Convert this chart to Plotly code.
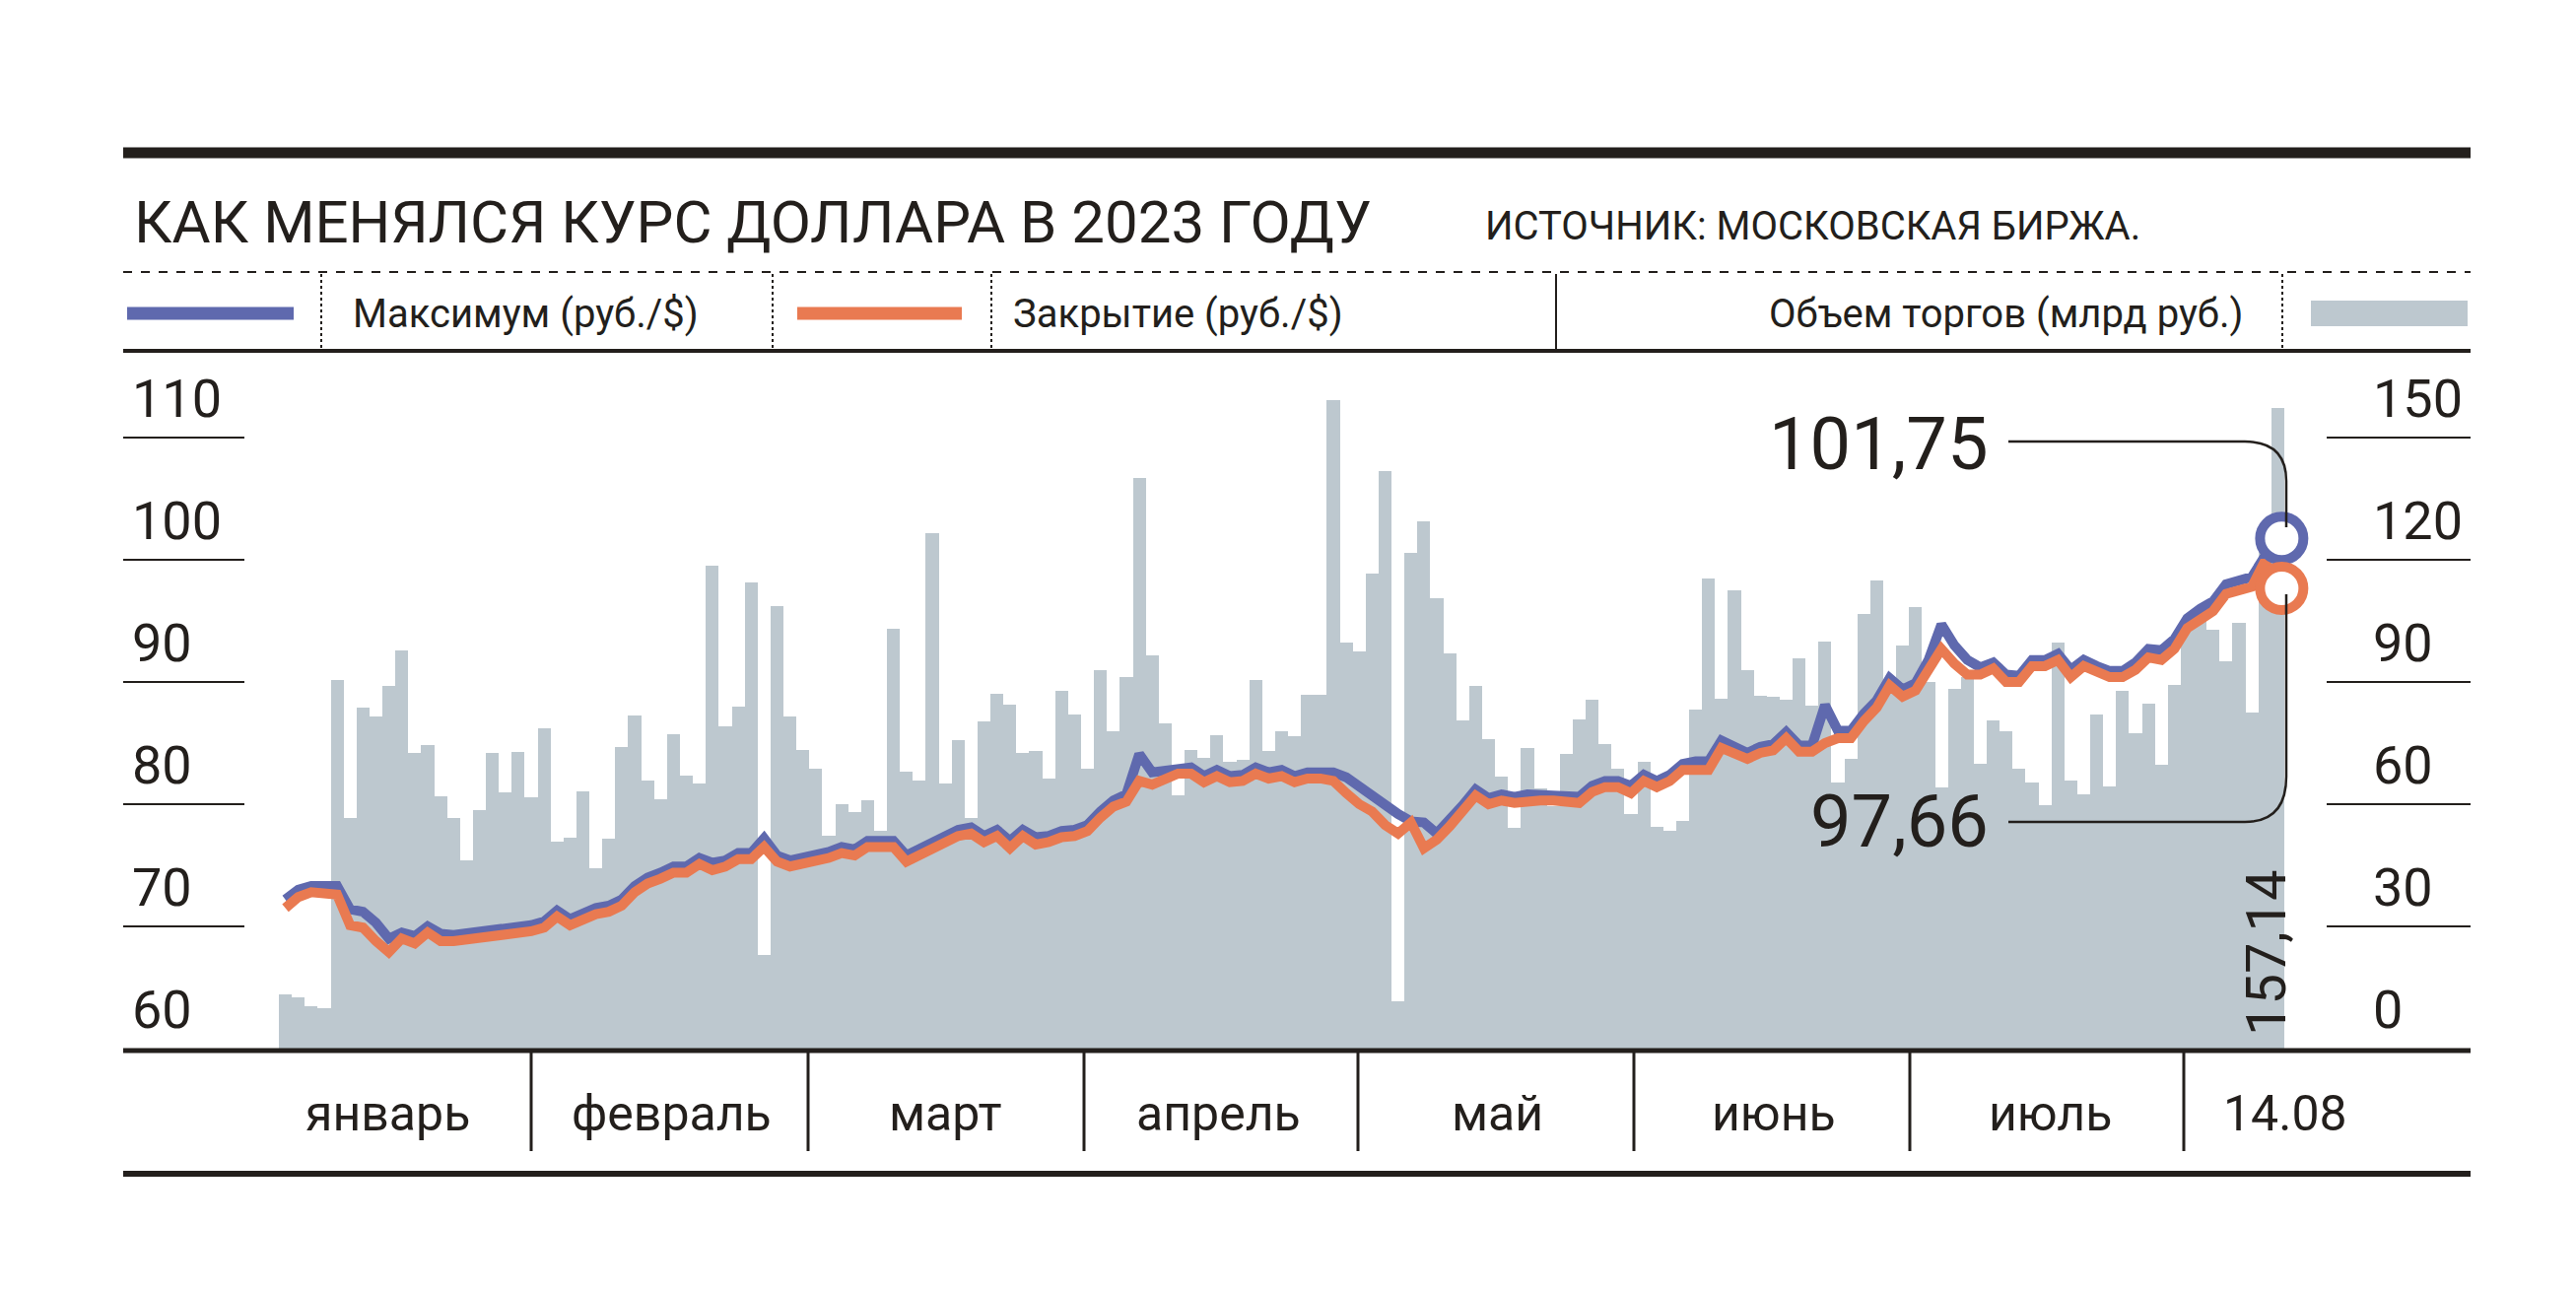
import plotly.graph_objects as go

W, H = 2614, 1312

# дневные значения с 3 января по 14 августа 2023 (оценка по картинке)
close = [71.5, 72.4, 72.8, 72.8, 72.6, 70.1, 69.9, 68.8, 67.9, 69.0,
         68.6, 69.5, 68.8, 68.8, 68.9, 69.0, 69.2, 69.4, 69.5, 69.6,
         69.9, 70.8, 70.1, 70.6, 71.0, 71.2, 71.7, 72.8, 73.5, 73.9,
         74.4, 74.4, 75.1, 74.6, 74.9, 75.5, 75.5, 76.5, 75.3, 74.9,
         75.1, 75.3, 75.6, 76.0, 75.8, 76.5, 76.4, 76.5, 75.3, 75.8,
         76.5, 76.9, 77.4, 77.6, 76.9, 77.4, 76.4,
         77.4, 76.7, 76.9, 77.3, 77.4, 77.8, 78.9, 79.8, 80.2, 81.9,
         81.6, 82.1, 82.5, 82.5, 81.8, 82.3, 81.8, 81.9, 82.5, 82.1,
         82.3, 81.8, 82.1, 82.1, 81.9, 80.9, 80.0, 79.4, 78.3, 77.6,
         78.5, 76.4, 77.1, 78.2, 79.4, 80.7, 80.0, 80.3, 80.1, 80.3,
         80.3, 80.3, 80.3, 80.1, 81.0, 81.4, 81.4, 80.9, 81.9, 81.4,
         81.9, 82.8,
         82.8, 82.8, 84.6, 84.2, 83.7, 84.2, 84.4, 85.4, 84.3, 84.3,
         85.0, 85.4, 85.4, 86.8, 87.9, 89.7, 88.8, 89.3, 91.1, 92.7,
         91.5, 90.6, 90.6, 91.1, 90.0, 90.0, 91.3, 91.3, 91.8, 90.4,
         91.3, 90.8, 90.4, 90.4, 91.0, 92.0, 91.8, 92.7, 94.4, 95.1,
         95.8, 97.2, 97.4, 97.8, 99.9, 97.66]

high = [72.2, 73.0, 73.3, 73.4, 73.3, 71.4, 71.2, 70.3, 69.0, 69.5,
        69.2, 70.0, 69.4, 69.3, 69.4, 69.5, 69.7, 69.9, 70.0, 70.1,
        70.4, 71.3, 70.6, 71.1, 71.5, 71.7, 72.2, 73.3, 74.0, 74.4,
        74.9, 74.9, 75.6, 75.2, 75.4, 76.0, 76.0, 77.2, 75.8, 75.4,
        75.6, 75.8, 76.1, 76.5, 76.3, 77.0, 76.9, 77.0, 75.8, 76.3,
        77.0, 77.4, 77.9, 78.1, 77.4, 77.9, 77.0,
        77.9, 77.3, 77.4, 77.8, 77.9, 78.3, 79.4, 80.3, 80.8, 84.1,
        82.6, 82.7, 83.0, 83.0, 82.3, 82.8, 82.3, 82.4, 83.0, 82.6,
        82.8, 82.3, 82.6, 82.6, 82.6, 82.2, 81.4, 80.7, 79.9, 79.2,
        78.6, 78.5, 77.6, 78.7, 79.9, 81.2, 80.5, 80.8, 80.6, 80.8,
        80.8, 80.8, 80.8, 80.6, 81.5, 81.9, 81.9, 81.5, 82.4, 81.9,
        82.4, 83.3,
        83.5, 83.5, 85.2, 84.7, 84.2, 84.7, 84.9, 85.9, 84.8, 84.8,
        88.1, 86.0, 86.0, 87.4, 88.5, 90.3, 89.4, 89.9, 91.8, 94.7,
        93.0, 91.8, 91.2, 91.6, 90.6, 90.5, 91.8, 91.8, 92.3, 91.0,
        91.8, 91.3, 90.9, 90.9, 91.6, 92.7, 92.6, 93.5, 95.2, 96.0,
        96.6, 98.0, 98.2, 98.6, 100.3, 101.75]

volume = [13.3, 12.5, 10.4, 10.0, 90.5, 56.5, 83.6, 81.5, 89.0, 97.8,
          72.7, 74.6, 62.0, 56.7, 46.3, 58.6, 72.6, 63.0, 72.8, 61.8,
          78.6, 50.7, 51.8, 63.2, 44.2, 51.6, 74.0, 81.7, 65.8, 61.3,
          77.2, 67.0, 65.2, 118.6, 79.0, 84.0, 114.4, 23.0, 108.6, 81.6,
          73.4, 68.8, 52.2, 60.0, 58.0, 61.0, 53.5, 103.0, 68.0, 65.8,
          126.6, 65.2, 75.8, 56.5, 80.3, 87.0, 84.5,
          72.7, 73.1, 66.2, 87.8, 82.1, 68.8, 93.0, 78.0, 91.3, 140.1,
          96.5, 79.8, 62.1, 73.3, 71.4, 76.9, 70.3, 70.8, 90.5, 73.0,
          78.0, 76.6, 86.9, 86.9, 159.2, 99.6, 97.4, 116.7, 141.7, 11.7,
          121.8, 129.4, 110.5, 97.1, 80.6, 89.0, 76.0, 66.8, 54.3, 73.8,
          63.8, 59.4, 72.3, 80.8, 85.6, 74.8, 68.7, 57.5, 70.3, 54.5,
          53.4, 55.9,
          83.2, 115.3, 85.8, 112.5, 92.9, 86.7, 86.4, 85.6, 95.9, 84.2,
          100.0, 65.4, 71.2, 106.7, 114.8, 90.0, 98.9, 108.5, 90.0, 64.0,
          88.2, 91.1, 69.8, 80.6, 77.8, 68.8, 65.3, 59.7, 99.6, 65.8,
          62.4, 81.9, 64.3, 87.8, 77.4, 84.7, 69.7, 89.2, 103.8, 106.9,
          102.8, 95.0, 104.5, 82.6, 126.5, 157.14]

months = ["январь", "февраль", "март", "апрель", "май", "июнь", "июль", "14.08"]
left_ticks = [60, 70, 80, 90, 100, 110]
right_ticks = [0, 30, 60, 90, 120, 150]

BLUE = "#5f69ae"
ORANGE = "#e97a51"
BAR = "#bdc8cf"
INK = "#231f1c"
FONT = "Roboto, sans-serif"


def px(x):
    return x / W


def py(y):
    return 1 - y / H


days = list(range(len(close)))
y_bot, y_top = 1056, 380
x0, x1 = 275, 2310
vol_top = (y_bot - y_top) / ((1056 - 436) / 150)
price_top = 60 + (y_bot - y_top) / ((1056 - 436) / 50)

fig = go.Figure()
# столбцы на нижней оси, линии поверх на второй
fig.add_trace(go.Bar(x=days, y=volume, marker=dict(color=BAR, line_width=0),
                     yaxis="y", showlegend=False))
fig.add_trace(go.Scatter(x=days, y=high, mode="lines", yaxis="y2",
                         line=dict(color=BLUE, width=10), showlegend=False))
fig.add_trace(go.Scatter(x=days, y=close, mode="lines", yaxis="y2",
                         line=dict(color=ORANGE, width=10), showlegend=False))
fig.add_trace(go.Scatter(x=[days[-1] + 0.3], y=[high[-1]], mode="markers", yaxis="y2",
                         marker=dict(size=44, color="white", line=dict(color=BLUE, width=10)),
                         showlegend=False))
fig.add_trace(go.Scatter(x=[days[-1] + 0.3], y=[close[-1]], mode="markers", yaxis="y2",
                         marker=dict(size=44, color="white", line=dict(color=ORANGE, width=10)),
                         showlegend=False))

shapes = []
ann = []


def hline(x_a, x_b, y, width, color=INK, dash="solid"):
    shapes.append(dict(type="line", xref="paper", yref="paper", x0=px(x_a), x1=px(x_b),
                       y0=py(y), y1=py(y), line=dict(color=color, width=width, dash=dash)))


def vline(x, y_a, y_b, width, dash="solid"):
    shapes.append(dict(type="line", xref="paper", yref="paper", x0=px(x), x1=px(x),
                       y0=py(y_a), y1=py(y_b), line=dict(color=INK, width=width, dash=dash)))


def text(s, x, y, size, xanchor="left", yanchor="middle", angle=0, color=INK):
    ann.append(dict(text=s, x=px(x), y=py(y), xref="paper", yref="paper", showarrow=False,
                    xanchor=xanchor, yanchor=yanchor, textangle=angle,
                    font=dict(family=FONT, size=size, color=color)))


# шапка
hline(117, 2499, 147, 11)
text("КАК МЕНЯЛСЯ КУРС ДОЛЛАРА В 2023 ГОДУ", 126, 218, 60)
text("ИСТОЧНИК: МОСКОВСКАЯ БИРЖА.", 1497, 222, 40)
hline(117, 2499, 268, 2, dash="dash")
hline(117, 2499, 348, 4)

# легенда
hline(121, 290, 310, 13, BLUE)
hline(801, 968, 310, 13, ORANGE)
hline(2337, 2496, 310, 26, BAR)
for xs in (318, 776, 998, 2308):
    vline(xs, 270, 346, 2, dash="dot")
vline(1571, 270, 346, 2)
text("Максимум (руб./$)", 348, 310, 40)
text("Закрытие (руб./$)", 1018, 310, 40)
text("Объем торгов (млрд руб.)", 2270, 310, 40, xanchor="right")

# сетка и подписи осей
for lv in left_ticks[1:]:
    yy = y_bot - (lv - 60) * (1056 - 436) / 50
    hline(117, 240, yy, 2)
    hline(2353, 2499, yy, 2)
for lv, rv in zip(left_ticks, right_ticks):
    yy = y_bot - (lv - 60) * (1056 - 436) / 50
    text(str(lv), 124, yy - 6, 54, yanchor="bottom")
    text(str(rv), 2398, yy - 6, 54, yanchor="bottom")

# нижняя ось и месяцы
hline(117, 2499, 1058, 5)
hline(117, 2499, 1183, 6)
for xs in (531, 812, 1092, 1370, 1650, 1930, 2208):
    vline(xs, 1060, 1160, 3)
for m, xc in zip(months, (385, 673, 951, 1228, 1511, 1792, 2072, 2311)):
    text(m, xc, 1122, 50, xanchor="center")

# выноски
text("101,75", 2012, 442, 74, xanchor="right")
text("97,66", 2012, 826, 74, xanchor="right")
shapes.append(dict(type="path", xref="paper", yref="paper", line=dict(color=INK, width=2.5),
                   path=f"M {px(2030)},{py(440)} L {px(2270)},{py(440)} "
                        f"Q {px(2312)},{py(440)} {px(2312)},{py(480)} L {px(2312)},{py(527)}"))
shapes.append(dict(type="path", xref="paper", yref="paper", line=dict(color=INK, width=2.5),
                   path=f"M {px(2312)},{py(595)} L {px(2312)},{py(780)} "
                        f"Q {px(2312)},{py(826)} {px(2270)},{py(826)} L {px(2030)},{py(826)}"))
text("157,14", 2292, 1045, 56, xanchor="center", yanchor="bottom", angle=-90)

fig.update_layout(
    width=W, height=H,
    margin=dict(l=0, r=0, t=0, b=0),
    paper_bgcolor="white", plot_bgcolor="white",
    bargap=0,
    xaxis=dict(domain=[px(x0), px(x1)], range=[-0.5, len(days) - 0.5],
               visible=False, fixedrange=True),
    yaxis=dict(domain=[py(y_bot), py(y_top)], range=[0, vol_top], visible=False),
    yaxis2=dict(range=[60, price_top], visible=False, overlaying="y", side="right"),
    shapes=shapes,
    annotations=ann,
)
fig.for_each_trace(lambda t: t.update(cliponaxis=False) if t.type == "scatter" else None)

fig.write_html("out.html")
